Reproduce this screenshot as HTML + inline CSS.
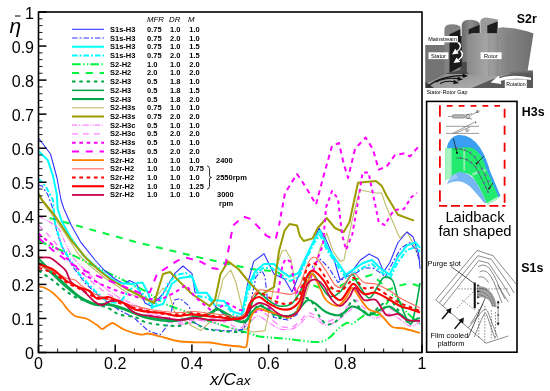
<!DOCTYPE html>
<html><head><meta charset="utf-8"><title>Film cooling effectiveness</title>
<style>html,body{margin:0;padding:0;background:#fff}body{width:550px;height:391px;overflow:hidden}svg{display:block}text{font-family:"Liberation Sans",sans-serif;fill:#000}.b{font-weight:bold}.i{font-style:italic}</style></head><body>
<svg width="550" height="391" viewBox="0 0 550 391">
<rect width="550" height="391" fill="#fff"/>
<defs><clipPath id="pc"><rect x="38.5" y="12" width="383.5" height="340.5"/></clipPath></defs>
<g id="curves" fill="none" stroke-linejoin="round" stroke-linecap="butt" clip-path="url(#pc)">
<path d="M38.5 216.0C41.5 217.8 52.9 223.2 57.0 227.0C61.1 230.8 61.8 235.6 64.0 240.0C66.2 244.4 68.7 250.7 71.0 254.5C73.3 258.3 75.6 260.3 78.6 263.6C81.6 266.9 85.8 271.1 90.0 275.0C94.2 278.9 100.2 284.3 105.0 288.0C109.8 291.7 115.2 295.3 120.0 298.0C124.8 300.7 130.2 302.8 135.0 305.0C139.8 307.2 145.2 309.9 150.0 312.0C154.8 314.1 160.2 316.4 165.0 318.0C169.8 319.6 175.2 321.7 180.0 322.0C184.8 322.3 190.2 320.0 195.0 320.0C199.8 320.0 205.2 321.0 210.0 322.0C214.8 323.0 220.2 324.7 225.0 326.0C229.8 327.3 236.0 330.6 240.0 330.0C244.0 329.4 247.1 324.2 250.0 322.0C252.9 319.8 255.1 316.0 258.0 316.0C260.9 316.0 264.5 319.9 268.0 322.0C271.5 324.1 276.2 327.9 280.0 329.0C283.8 330.1 288.8 329.8 292.0 329.0C295.2 328.2 297.4 326.1 300.0 324.0C302.6 321.9 305.4 316.8 308.0 316.0C310.6 315.2 313.1 317.6 316.0 319.0C318.9 320.4 322.5 324.8 326.0 325.0C329.5 325.2 334.5 322.1 338.0 320.0C341.5 317.9 345.1 314.2 348.0 312.0C350.9 309.8 353.4 306.0 356.0 306.0C358.6 306.0 361.0 310.1 364.0 312.0C367.0 313.9 371.2 317.7 375.0 318.0C378.8 318.3 384.3 314.0 388.0 314.0C391.7 314.0 394.5 316.1 398.0 318.0C401.5 319.9 406.5 325.4 410.0 326.0C413.5 326.6 418.4 322.6 420.0 322.0" stroke="#ff80ff" stroke-width="1.3" stroke-dasharray="5.5 1.5 1 1.3 1 1"/>
<path d="M38.5 225.0C40.8 227.4 48.9 235.3 53.0 240.0C57.1 244.7 60.5 250.3 64.0 254.5C67.5 258.7 70.8 261.9 75.0 266.0C79.2 270.1 85.2 275.8 90.0 280.0C94.8 284.2 100.2 288.8 105.0 292.0C109.8 295.2 115.2 297.4 120.0 300.0C124.8 302.6 130.2 305.8 135.0 308.0C139.8 310.2 145.2 312.1 150.0 314.0C154.8 315.9 160.2 318.4 165.0 320.0C169.8 321.6 175.2 323.7 180.0 324.0C184.8 324.3 190.2 323.0 195.0 322.0C199.8 321.0 205.2 318.0 210.0 318.0C214.8 318.0 220.2 320.4 225.0 322.0C229.8 323.6 236.0 328.6 240.0 328.0C244.0 327.4 247.1 320.9 250.0 318.0C252.9 315.1 255.1 310.3 258.0 310.0C260.9 309.7 264.5 313.4 268.0 316.0C271.5 318.6 276.2 324.2 280.0 326.0C283.8 327.8 288.8 327.8 292.0 327.0C295.2 326.2 297.4 323.2 300.0 321.0C302.6 318.8 305.4 313.8 308.0 313.0C310.6 312.2 313.1 314.6 316.0 316.0C318.9 317.4 322.5 322.0 326.0 322.0C329.5 322.0 334.5 318.6 338.0 316.0C341.5 313.4 345.1 308.6 348.0 306.0C350.9 303.4 353.4 299.7 356.0 300.0C358.6 300.3 361.0 305.8 364.0 308.0C367.0 310.2 371.2 314.0 375.0 314.0C378.8 314.0 384.3 308.0 388.0 308.0C391.7 308.0 394.5 311.8 398.0 314.0C401.5 316.2 406.5 321.4 410.0 322.0C413.5 322.6 418.4 318.6 420.0 318.0" stroke="#ff80ff" stroke-width="1.3" stroke-dasharray="6 4.9"/>
<polyline points="38.5,196.0 45.0,205.0 62.0,229.0 78.6,254.5 89.5,265.5 105.0,278.0 128.0,293.0 148.0,301.0 154.0,300.0 163.0,288.0 168.7,292.7 174.5,311.6 192.0,326.0 200.8,330.6 212.0,320.0 221.0,288.0 223.0,279.0 230.7,270.0 235.8,282.0 241.6,305.8 244.6,329.0 253.0,332.0 265.0,330.6 270.8,303.0 276.8,266.5 282.0,251.0 285.7,250.0 291.0,259.0 293.4,274.0 296.0,298.0 304.0,300.0 312.6,274.0 320.0,248.6 326.7,233.0 333.0,251.0 340.0,261.4 344.0,260.0 348.7,236.7 352.4,219.0 359.7,190.0 375.8,193.0 381.6,193.0 386.6,207.5 398.0,234.0 400.0,238.0 407.0,232.0 414.0,245.0 420.0,260.0" stroke="#c2be6e" stroke-width="1.15"/>
<path d="M38.5 241.0C43.7 243.2 62.8 250.9 71.0 254.5C79.2 258.1 80.4 259.1 89.5 263.6C98.6 268.1 118.6 277.8 128.0 282.5C137.4 287.2 142.4 289.4 148.0 292.7C153.6 296.0 156.9 300.0 163.0 303.0C169.1 306.0 177.7 308.4 186.0 311.6C194.3 314.8 204.8 319.5 215.0 323.0C225.2 326.5 243.0 331.4 250.0 333.5C257.0 335.6 252.9 335.5 259.0 336.4C265.1 337.3 278.6 338.1 288.0 339.0C297.4 339.9 310.9 342.2 317.5 342.0C324.1 341.8 325.7 340.1 329.0 338.0C332.3 335.9 335.2 331.4 338.0 329.0C340.8 326.6 344.4 323.8 346.6 323.0C348.8 322.2 349.5 324.8 351.7 324.0C353.9 323.2 357.6 319.8 360.4 318.0C363.2 316.2 366.2 313.0 369.0 312.5C371.8 312.0 375.2 316.4 378.0 315.0C380.8 313.6 384.0 306.9 386.6 303.7C389.2 300.5 390.7 293.6 394.0 295.0C397.3 296.4 402.8 307.9 407.0 312.5C411.2 317.1 417.9 322.2 420.0 324.0" stroke="#00f53c" stroke-width="2" stroke-dasharray="8.7 2.5 1.3 2.5 1.3 2"/>
<polyline points="49.5,218.0 135.0,241.8 200.0,257.6 251.0,269.0 276.8,271.7 284.5,276.8 297.0,274.0 310.0,284.0 325.0,290.0 340.0,286.0 352.0,280.0 363.0,277.5 372.0,274.6 378.0,280.0 388.0,290.0 398.0,286.0 410.0,283.0 418.7,286.0" stroke="#00f53c" stroke-width="2" stroke-dasharray="7 6.8"/>
<polyline points="38.5,185.0 42.0,186.0 47.7,194.5 53.0,209.0 57.0,232.7 64.0,251.0 73.0,267.0 85.0,283.0 100.0,297.0 119.0,310.0 133.7,317.5 148.0,330.6 160.0,335.0 167.0,326.0 174.5,300.0 180.0,298.5 189.0,306.0 195.0,323.0 206.6,329.0 224.0,330.6 235.0,331.0 244.0,329.0 250.0,305.8 256.0,276.6 262.0,270.8 265.0,276.6 268.0,305.8 273.7,317.5 288.0,320.0 297.0,314.5 305.8,288.0 313.0,265.0 320.0,259.0 329.0,268.0 338.0,282.5 346.6,276.6 355.0,273.7 364.0,268.0 372.8,268.0 381.6,273.7 385.0,277.0 392.5,263.0 401.0,248.0 410.0,242.5 416.0,250.0 420.0,262.0" stroke="#3333ff" stroke-width="1.1" stroke-dasharray="5.5 2 2 2"/>
<polyline points="38.5,138.0 50.5,154.0 57.0,178.0 61.0,200.0 64.0,209.0 71.4,225.5 80.5,241.8 95.0,260.0 104.0,270.0 115.0,279.0 124.0,284.0 129.5,280.5 136.6,284.0 145.0,303.0 151.0,306.0 163.0,294.0 174.5,273.7 183.0,266.0 192.0,273.7 195.0,292.7 206.6,292.7 215.0,306.0 224.0,314.5 235.8,317.5 241.6,317.5 247.5,284.5 253.7,261.4 264.0,253.7 269.0,264.0 274.0,274.0 284.5,279.0 292.0,292.0 302.4,266.5 312.6,243.5 319.0,228.0 325.4,238.4 333.0,256.0 340.0,280.0 351.7,271.6 360.4,260.0 369.0,254.0 378.0,258.5 383.7,271.6 389.6,263.0 398.0,242.5 407.0,232.0 413.0,236.7 418.7,254.0 420.0,268.7" stroke="#3333ff" stroke-width="1.1"/>
<polyline points="38.5,178.6 46.0,187.0 53.0,200.0 55.0,223.6 62.0,247.0 71.4,262.0 80.0,275.0 95.0,291.0 108.0,302.0 120.0,303.0 128.0,291.0 135.0,286.0 145.0,296.0 152.0,308.0 160.0,300.0 168.0,284.0 176.0,275.0 186.0,273.0 193.0,278.0 198.0,296.0 208.0,298.0 215.0,305.0 226.0,306.0 234.0,315.0 242.0,318.0 248.0,292.0 255.0,275.0 263.0,268.0 272.0,268.0 281.0,276.0 290.0,281.0 299.0,277.0 307.0,258.0 314.0,243.0 320.0,235.0 327.0,250.0 339.0,268.0 346.0,278.0 355.0,272.0 364.0,267.0 372.0,264.0 381.0,272.0 390.0,278.0 398.0,262.0 407.0,250.0 416.0,247.0 420.0,252.0" stroke="#00ffff" stroke-width="2" stroke-dasharray="5.5 2 2 2"/>
<polyline points="38.5,151.0 47.7,160.0 53.0,176.0 56.8,194.5 57.7,209.0 62.0,222.0 71.0,238.0 83.0,255.0 95.0,266.0 106.0,275.0 118.0,283.0 131.0,284.0 142.5,282.5 148.0,292.7 152.7,307.0 163.0,304.0 171.6,284.0 180.0,278.0 192.0,276.6 198.0,292.7 206.6,292.7 212.4,300.0 224.0,301.0 232.8,311.6 241.6,314.5 247.5,288.0 255.0,271.7 264.0,264.0 274.0,264.0 282.0,271.7 289.6,276.8 298.5,273.0 307.5,253.7 315.0,238.4 320.0,230.7 328.0,248.6 340.0,265.8 345.8,274.6 354.6,268.7 363.0,263.0 372.0,260.0 380.8,268.7 389.6,274.6 398.0,257.0 407.0,245.4 415.8,242.5 420.0,248.0" stroke="#00ffff" stroke-width="2"/>
<polyline points="38.5,193.6 42.0,200.0 55.0,216.0 71.0,240.0 86.0,258.0 98.6,270.0 110.0,279.0 125.0,288.0 154.0,303.0 163.0,274.0 170.0,272.0 177.5,279.6 192.0,294.0 209.5,306.0 215.0,300.0 220.5,274.0 228.0,261.4 238.4,269.0 251.0,284.5 261.4,294.7 274.0,287.0 279.0,251.0 284.5,230.7 289.6,224.0 297.0,225.6 299.8,235.8 303.7,241.0 312.6,238.4 317.7,228.0 326.7,218.0 335.0,228.0 343.7,232.0 349.5,222.0 358.0,182.7 375.8,181.0 381.6,185.6 386.6,195.8 398.0,214.8 414.0,220.6" stroke="#9c9c00" stroke-width="2"/>
<polyline points="38.5,233.6 62.0,252.7 71.4,263.6 85.0,275.0 100.0,284.0 120.0,292.0 140.0,298.0 160.0,300.0 174.5,292.7 186.0,285.0 195.0,297.0 212.4,311.6 227.0,303.0 240.0,310.0 255.0,312.0 270.0,308.0 276.6,303.0 282.5,265.0 285.7,259.0 291.0,262.0 295.6,294.0 300.0,288.0 308.7,282.5 317.5,259.0 323.0,244.6 326.0,207.5 332.0,191.0 338.0,198.7 342.0,234.0 346.0,250.0 352.4,234.0 358.0,201.6 362.6,172.5 368.5,172.5 372.8,193.0 378.7,222.0 384.5,225.0 394.0,210.0 404.0,209.0 411.4,197.0 417.0,193.0" stroke="#ff00ff" stroke-width="2" stroke-dasharray="3.7 3.6"/>
<polyline points="38.5,238.0 55.0,252.0 70.0,263.0 85.0,271.0 100.0,277.0 120.0,285.0 140.0,293.0 150.0,292.0 157.0,274.0 177.5,260.6 186.0,257.7 200.0,261.4 212.0,268.0 218.0,269.0 225.6,264.0 229.0,247.0 233.0,225.6 243.5,216.6 251.0,219.0 266.5,235.8 275.5,239.7 279.0,225.6" stroke="#ff00ff" stroke-width="2" stroke-dasharray="7 6.8"/>
<polyline points="279.0,225.6 285.0,193.0 297.0,174.0 305.8,187.0 316.0,204.5 323.0,178.0 332.0,146.0 339.0,143.0 343.7,163.7 348.0,178.0 355.0,149.0 365.6,137.5 372.8,149.0 378.7,169.6 386.6,166.6 395.0,155.0 404.0,153.5 410.0,156.4 418.0,147.0" stroke="#ff00ff" stroke-width="2" stroke-dasharray="5 4.2"/>
<path d="M38.5 270.5C40.8 272.1 48.6 277.2 53.0 280.5C57.4 283.8 62.2 288.2 66.0 291.0C69.8 293.8 73.2 296.2 77.0 298.0C80.8 299.8 84.5 300.4 89.5 302.0C94.5 303.6 103.3 306.0 108.0 308.0C112.7 310.0 114.7 313.1 119.0 314.5C123.3 315.9 130.4 315.6 135.0 317.0C139.6 318.4 141.2 321.6 148.0 323.0C154.8 324.4 170.5 326.2 177.5 326.0C184.5 325.8 187.3 321.5 192.0 322.0C196.7 322.5 199.6 327.4 206.6 329.0C213.6 330.6 229.3 331.8 235.8 332.0C242.3 332.2 244.2 333.2 247.0 330.0C249.8 326.8 250.9 316.0 253.0 312.0C255.1 308.0 257.3 305.0 260.0 305.0C262.7 305.0 266.8 309.9 270.0 312.0C273.2 314.1 276.5 317.4 280.0 318.0C283.5 318.6 288.8 318.1 292.0 316.0C295.2 313.9 297.8 307.9 300.0 305.0C302.2 302.1 304.1 298.5 306.0 298.0C307.9 297.5 310.1 299.4 312.0 302.0C313.9 304.6 315.8 310.5 318.0 314.0C320.2 317.5 323.3 322.7 326.0 324.0C328.7 325.3 332.0 323.9 335.0 322.0C338.0 320.1 342.1 315.5 345.0 312.0C347.9 308.5 350.6 300.6 353.0 300.0C355.4 299.4 357.3 305.8 360.0 308.0C362.7 310.2 366.8 314.3 370.0 314.0C373.2 313.7 376.8 308.2 380.0 306.0C383.2 303.8 387.1 299.4 390.0 300.0C392.9 300.6 395.1 306.5 398.0 310.0C400.9 313.5 404.5 320.7 408.0 322.0C411.5 323.3 418.1 318.6 420.0 318.0" stroke="#00a84a" stroke-width="2" stroke-dasharray="3.5 3.8"/>
<path d="M38.5 262.0C40.8 264.1 48.6 271.0 53.0 275.0C57.4 279.0 61.7 283.3 66.0 287.0C70.3 290.7 75.4 295.1 80.0 298.0C84.6 300.9 90.5 303.9 95.0 305.0C99.5 306.1 103.7 304.4 108.0 305.0C112.3 305.6 117.7 307.6 122.0 309.0C126.3 310.4 130.8 312.5 135.0 314.0C139.2 315.5 143.5 317.4 148.0 318.5C152.5 319.6 158.3 320.6 163.0 321.0C167.7 321.4 172.9 321.6 177.5 321.0C182.1 320.4 187.3 317.9 192.0 317.0C196.7 316.1 202.4 316.7 206.6 315.5C210.8 314.3 214.6 309.9 218.0 309.7C221.4 309.5 224.5 312.2 228.0 314.0C231.5 315.8 236.8 320.4 240.0 321.0C243.2 321.6 245.9 321.4 248.0 318.0C250.1 314.6 251.2 304.0 253.0 300.0C254.8 296.0 256.6 293.0 259.0 293.0C261.4 293.0 264.8 297.9 268.0 300.0C271.2 302.1 275.3 305.4 279.0 306.0C282.7 306.6 287.6 306.2 291.0 304.0C294.4 301.8 297.4 296.3 300.0 292.0C302.6 287.7 304.9 279.9 307.0 277.0C309.1 274.1 310.9 272.9 313.0 274.0C315.1 275.1 317.4 280.5 320.0 284.0C322.6 287.5 325.8 294.7 329.0 296.0C332.2 297.3 336.4 295.4 340.0 292.0C343.6 288.6 348.9 276.0 351.7 274.6C354.5 273.2 354.7 279.3 357.5 283.0C360.3 286.7 365.7 297.5 369.0 298.0C372.3 298.5 375.6 289.3 378.0 286.0C380.4 282.7 381.4 278.4 383.7 277.5C386.0 276.6 390.2 277.1 392.5 280.4C394.8 283.7 395.2 291.0 398.0 298.0C400.8 305.0 407.2 322.6 410.0 324.0C412.8 325.4 414.2 313.2 415.8 306.6C417.4 300.0 419.3 286.8 420.0 283.0" stroke="#00a84a" stroke-width="1.6"/>
<path d="M38.5 258.6C40.8 260.9 48.6 268.8 53.0 273.0C57.4 277.2 61.7 281.2 66.0 285.0C70.3 288.8 75.4 294.0 80.0 297.0C84.6 300.0 90.5 302.9 95.0 304.0C99.5 305.1 103.7 303.4 108.0 304.0C112.3 304.6 117.7 306.3 122.0 307.7C126.3 309.1 130.8 311.4 135.0 313.0C139.2 314.6 141.2 316.4 148.0 317.5C154.8 318.6 168.1 320.5 177.5 320.0C186.9 319.5 200.1 316.3 206.6 314.5C213.1 312.7 214.3 308.1 218.0 308.7C221.7 309.3 225.7 315.9 230.0 318.0C234.3 320.1 241.5 323.0 245.0 322.0C248.5 321.0 249.6 314.6 252.0 312.0C254.4 309.4 257.1 306.2 260.0 306.0C262.9 305.8 266.8 309.4 270.0 311.0C273.2 312.6 276.5 315.4 280.0 316.0C283.5 316.6 288.8 316.3 292.0 315.0C295.2 313.7 297.4 310.4 300.0 308.0C302.6 305.6 305.4 300.6 308.0 300.0C310.6 299.4 313.1 302.1 316.0 304.0C318.9 305.9 322.2 310.2 326.0 312.0C329.8 313.8 335.9 315.9 340.0 315.0C344.1 314.1 348.4 307.5 351.7 306.6C355.0 305.7 357.6 308.2 360.4 309.5C363.2 310.8 365.7 315.0 369.0 315.0C372.3 315.0 377.5 310.8 380.8 309.5C384.1 308.2 386.8 306.1 389.6 306.6C392.4 307.1 394.7 310.2 398.0 312.5C401.3 314.8 406.7 320.1 410.0 321.0C413.3 321.9 417.3 318.5 418.7 318.0" stroke="#00a84a" stroke-width="2.1"/>
<path d="M38.5 286.5C39.5 286.7 42.7 287.0 45.0 288.0C47.3 289.0 50.3 290.8 53.0 293.0C55.7 295.2 59.6 299.4 62.0 302.0C64.4 304.6 65.6 307.3 67.7 309.5C69.8 311.7 72.1 314.6 75.0 316.0C77.9 317.4 82.5 317.1 86.0 318.5C89.5 319.9 94.4 323.3 97.0 325.0C99.6 326.7 100.4 328.8 102.0 329.0C103.6 329.2 105.3 327.0 107.0 326.0C108.7 325.0 110.8 323.0 112.6 323.0C114.4 323.0 116.0 324.9 118.0 326.0C120.0 327.1 121.5 328.6 125.0 330.0C128.5 331.4 136.3 333.9 140.0 334.5C143.7 335.1 144.8 333.2 148.0 333.5C151.2 333.8 155.3 335.2 160.0 336.4C164.7 337.6 171.9 340.1 177.5 341.0C183.1 341.9 189.8 342.1 195.0 342.3C200.2 342.5 205.2 342.1 210.0 342.5C214.8 342.9 220.2 344.4 225.0 345.0C229.8 345.6 236.6 346.3 240.0 346.5C243.4 346.7 245.1 349.4 246.5 346.0C247.9 342.6 248.1 330.0 249.0 325.0C249.9 320.0 250.4 317.1 252.0 314.5C253.6 311.9 256.4 309.2 259.0 308.7C261.6 308.2 264.7 310.7 268.0 311.6C271.3 312.5 276.4 313.6 279.6 314.5C282.8 315.4 285.2 318.0 288.0 317.5C290.8 317.0 294.2 316.3 297.0 311.6C299.8 306.9 303.5 294.1 305.8 288.0C308.1 281.9 309.7 274.6 311.6 273.7C313.5 272.8 315.2 278.3 317.5 282.5C319.8 286.7 322.7 296.3 326.0 300.0C329.3 303.7 334.7 306.3 338.0 305.8C341.3 305.3 344.3 299.8 346.6 297.0C348.9 294.2 350.1 287.5 352.4 288.0C354.7 288.5 358.3 296.6 361.0 300.0C363.7 303.4 366.3 307.5 369.0 309.5C371.7 311.5 375.6 311.1 378.0 312.5C380.4 313.9 381.4 315.7 383.7 318.0C386.0 320.3 389.3 325.3 392.5 327.0C395.7 328.7 399.6 327.5 404.0 328.5C408.4 329.5 417.4 332.3 420.0 333.0" stroke="#ff8000" stroke-width="1.8"/>
<path d="M38.5 266.0C40.8 266.8 48.6 269.1 53.0 271.0C57.4 272.9 62.5 276.6 66.0 278.0C69.5 279.4 72.4 278.7 75.0 280.0C77.6 281.3 78.8 283.8 82.0 286.0C85.2 288.2 90.8 291.9 95.0 294.0C99.2 296.1 103.7 297.6 108.0 299.0C112.3 300.4 117.7 301.9 122.0 303.0C126.3 304.1 130.5 305.0 135.0 306.0C139.5 307.0 145.2 308.6 150.0 309.5C154.8 310.4 160.2 311.0 165.0 311.5C169.8 312.0 175.2 312.5 180.0 312.5C184.8 312.5 190.2 311.3 195.0 311.5C199.8 311.7 205.2 312.9 210.0 313.5C214.8 314.1 220.2 314.4 225.0 315.0C229.8 315.6 236.3 318.0 240.0 317.0C243.7 316.0 245.9 312.4 248.0 309.0C250.1 305.6 251.2 299.0 253.0 296.0C254.8 293.0 256.6 290.8 259.0 290.0C261.4 289.2 264.7 290.6 268.0 291.0C271.3 291.4 275.6 292.2 279.6 292.7C283.6 293.2 289.4 295.2 292.7 294.0C296.0 292.8 297.4 290.1 300.0 285.0C302.6 279.9 306.1 266.4 308.7 262.0C311.3 257.6 313.2 256.3 316.0 257.7C318.8 259.1 323.0 266.4 326.0 270.8C329.0 275.2 332.4 282.4 335.0 285.0C337.6 287.6 339.7 288.3 342.0 287.0C344.3 285.7 347.4 278.7 349.5 276.6C351.6 274.5 352.7 272.8 355.0 273.7C357.3 274.6 360.7 280.9 364.0 282.5C367.3 284.1 371.6 282.6 375.8 284.0C380.0 285.4 386.1 288.8 390.0 291.0C393.9 293.2 396.8 296.1 400.0 298.0C403.2 299.9 406.8 301.4 410.0 303.0C413.2 304.6 418.4 307.2 420.0 308.0" stroke="#ff6a5e" stroke-width="1.15"/>
<path d="M38.5 268.0C40.8 268.8 48.6 270.8 53.0 273.0C57.4 275.2 61.7 279.4 66.0 282.0C70.3 284.6 75.4 286.6 80.0 289.0C84.6 291.4 90.5 295.4 95.0 297.0C99.5 298.6 103.7 297.9 108.0 299.0C112.3 300.1 117.7 302.6 122.0 304.0C126.3 305.4 130.5 306.8 135.0 308.0C139.5 309.2 145.2 310.5 150.0 311.5C154.8 312.5 160.2 313.5 165.0 314.0C169.8 314.5 175.2 314.6 180.0 314.5C184.8 314.4 190.2 313.3 195.0 313.5C199.8 313.7 205.2 314.9 210.0 315.5C214.8 316.1 220.2 316.4 225.0 317.0C229.8 317.6 236.3 319.8 240.0 319.0C243.7 318.2 245.9 315.0 248.0 312.0C250.1 309.0 251.2 303.1 253.0 300.0C254.8 296.9 256.6 293.2 259.0 292.7C261.4 292.2 264.7 295.4 268.0 297.0C271.3 298.6 275.9 302.0 279.6 303.0C283.3 304.0 287.7 304.4 291.0 303.0C294.3 301.6 297.4 299.6 300.0 294.0C302.6 288.4 304.7 272.9 307.0 268.0C309.3 263.1 311.9 262.6 314.5 263.5C317.1 264.4 320.2 269.8 323.0 273.7C325.8 277.6 329.2 285.2 332.0 288.0C334.8 290.8 338.0 291.9 340.8 291.0C343.6 290.1 347.4 284.6 349.5 282.5C351.6 280.4 351.7 277.1 354.0 278.0C356.3 278.9 360.5 286.4 364.0 288.0C367.5 289.6 371.6 286.6 375.8 288.0C380.0 289.4 386.1 294.6 390.0 297.0C393.9 299.4 396.8 301.4 400.0 303.0C403.2 304.6 406.8 305.7 410.0 307.0C413.2 308.3 418.4 310.4 420.0 311.0" stroke="#ff0000" stroke-width="2" stroke-dasharray="3.7 3.6"/>
<path d="M38.5 257.7C40.3 257.7 46.3 256.7 49.5 257.7C52.7 258.7 56.0 261.9 58.6 264.0C61.2 266.1 64.0 268.1 66.0 271.0C68.0 273.9 68.4 279.0 71.0 282.0C73.6 285.0 78.2 286.3 82.0 289.5C85.8 292.7 91.8 299.5 95.0 302.0C98.2 304.5 99.4 305.2 102.0 305.0C104.6 304.8 107.8 301.5 111.0 301.0C114.2 300.5 118.2 300.1 122.0 302.0C125.8 303.9 130.5 310.8 135.0 313.0C139.5 315.2 145.2 315.2 150.0 316.0C154.8 316.8 160.2 317.4 165.0 318.0C169.8 318.6 175.2 320.0 180.0 320.0C184.8 320.0 190.2 318.0 195.0 318.0C199.8 318.0 204.4 319.7 210.0 320.0C215.6 320.3 224.5 320.4 230.0 320.0C235.5 319.6 241.3 319.3 244.6 317.5C247.9 315.7 248.1 311.0 250.4 308.7C252.7 306.4 256.2 303.5 259.0 303.0C261.8 302.5 264.7 304.0 268.0 305.8C271.3 307.6 275.9 312.9 279.6 314.5C283.3 316.1 287.7 316.9 291.0 316.0C294.3 315.1 297.4 313.7 300.0 308.7C302.6 303.7 304.7 289.7 307.0 285.0C309.3 280.3 311.9 279.6 314.5 279.6C317.1 279.6 320.2 281.7 323.0 285.0C325.8 288.3 329.2 296.7 332.0 300.0C334.8 303.3 338.0 306.3 340.8 305.8C343.6 305.3 347.2 299.8 349.5 297.0C351.8 294.2 352.7 287.5 355.0 288.0C357.3 288.5 360.7 298.1 364.0 300.0C367.3 301.9 372.2 297.6 375.8 300.0C379.4 302.4 383.0 312.8 386.6 315.0C390.2 317.2 394.7 313.2 398.0 314.0C401.3 314.8 403.5 318.9 407.0 320.0C410.5 321.1 417.9 320.8 420.0 321.0" stroke="#c8004c" stroke-width="1.8"/>
<path d="M38.5 264.0C40.8 264.9 48.6 266.9 53.0 269.5C57.4 272.1 61.7 277.6 66.0 280.5C70.3 283.4 76.2 286.0 80.0 287.7C83.8 289.4 86.8 289.3 89.5 291.0C92.2 292.7 94.0 297.6 97.0 298.6C100.0 299.6 105.1 296.9 108.0 297.0C110.9 297.1 112.1 298.4 115.0 299.5C117.9 300.6 122.8 302.4 126.0 304.0C129.2 305.6 131.2 308.2 135.0 309.5C138.8 310.8 145.5 311.4 150.0 312.0C154.5 312.6 158.7 312.4 163.0 313.0C167.3 313.6 172.4 315.8 177.0 316.0C181.6 316.2 187.4 314.5 192.0 314.5C196.6 314.5 201.4 315.5 206.0 316.0C210.6 316.5 216.4 317.0 221.0 317.5C225.6 318.0 231.2 319.2 235.0 319.0C238.8 318.8 242.6 318.6 245.0 316.0C247.4 313.4 247.8 306.0 250.0 303.0C252.2 300.0 256.1 297.0 259.0 297.0C261.9 297.0 264.7 301.1 268.0 303.0C271.3 304.9 275.9 307.8 279.6 308.7C283.3 309.6 287.7 310.1 291.0 308.7C294.3 307.3 297.4 305.1 300.0 300.0C302.6 294.9 304.9 281.3 307.0 276.6C309.1 271.9 310.4 270.3 313.0 270.8C315.6 271.3 320.0 275.9 323.0 279.6C326.0 283.3 329.2 290.7 332.0 294.0C334.8 297.3 338.0 301.0 340.8 300.0C343.6 299.0 347.4 290.6 349.5 288.0C351.6 285.4 351.7 283.0 354.0 284.0C356.3 285.0 360.5 292.6 364.0 294.0C367.5 295.4 371.6 291.7 375.8 292.7C380.0 293.7 386.1 297.9 390.0 300.0C393.9 302.1 396.8 304.6 400.0 306.0C403.2 307.4 406.8 308.0 410.0 309.0C413.2 310.0 418.4 311.9 420.0 312.5" stroke="#ff0000" stroke-width="2.1"/>
</g>
<g id="axes" stroke="#000" fill="none">
<rect x="38.5" y="12" width="383.5" height="340.5" stroke-width="1.6"/>
<line x1="38.5" y1="352.50" x2="46.5" y2="352.50" stroke-width="1.5"/><line x1="38.5" y1="345.69" x2="42.5" y2="345.69" stroke-width="0.9"/><line x1="38.5" y1="338.88" x2="42.5" y2="338.88" stroke-width="0.9"/><line x1="38.5" y1="332.07" x2="42.5" y2="332.07" stroke-width="0.9"/><line x1="38.5" y1="325.26" x2="42.5" y2="325.26" stroke-width="0.9"/><line x1="38.5" y1="318.45" x2="46.5" y2="318.45" stroke-width="1.5"/><line x1="38.5" y1="311.64" x2="42.5" y2="311.64" stroke-width="0.9"/><line x1="38.5" y1="304.83" x2="42.5" y2="304.83" stroke-width="0.9"/><line x1="38.5" y1="298.02" x2="42.5" y2="298.02" stroke-width="0.9"/><line x1="38.5" y1="291.21" x2="42.5" y2="291.21" stroke-width="0.9"/><line x1="38.5" y1="284.40" x2="46.5" y2="284.40" stroke-width="1.5"/><line x1="38.5" y1="277.59" x2="42.5" y2="277.59" stroke-width="0.9"/><line x1="38.5" y1="270.78" x2="42.5" y2="270.78" stroke-width="0.9"/><line x1="38.5" y1="263.97" x2="42.5" y2="263.97" stroke-width="0.9"/><line x1="38.5" y1="257.16" x2="42.5" y2="257.16" stroke-width="0.9"/><line x1="38.5" y1="250.35" x2="46.5" y2="250.35" stroke-width="1.5"/><line x1="38.5" y1="243.54" x2="42.5" y2="243.54" stroke-width="0.9"/><line x1="38.5" y1="236.73" x2="42.5" y2="236.73" stroke-width="0.9"/><line x1="38.5" y1="229.92" x2="42.5" y2="229.92" stroke-width="0.9"/><line x1="38.5" y1="223.11" x2="42.5" y2="223.11" stroke-width="0.9"/><line x1="38.5" y1="216.30" x2="46.5" y2="216.30" stroke-width="1.5"/><line x1="38.5" y1="209.49" x2="42.5" y2="209.49" stroke-width="0.9"/><line x1="38.5" y1="202.68" x2="42.5" y2="202.68" stroke-width="0.9"/><line x1="38.5" y1="195.87" x2="42.5" y2="195.87" stroke-width="0.9"/><line x1="38.5" y1="189.06" x2="42.5" y2="189.06" stroke-width="0.9"/><line x1="38.5" y1="182.25" x2="46.5" y2="182.25" stroke-width="1.5"/><line x1="38.5" y1="175.44" x2="42.5" y2="175.44" stroke-width="0.9"/><line x1="38.5" y1="168.63" x2="42.5" y2="168.63" stroke-width="0.9"/><line x1="38.5" y1="161.82" x2="42.5" y2="161.82" stroke-width="0.9"/><line x1="38.5" y1="155.01" x2="42.5" y2="155.01" stroke-width="0.9"/><line x1="38.5" y1="148.20" x2="46.5" y2="148.20" stroke-width="1.5"/><line x1="38.5" y1="141.39" x2="42.5" y2="141.39" stroke-width="0.9"/><line x1="38.5" y1="134.58" x2="42.5" y2="134.58" stroke-width="0.9"/><line x1="38.5" y1="127.77" x2="42.5" y2="127.77" stroke-width="0.9"/><line x1="38.5" y1="120.96" x2="42.5" y2="120.96" stroke-width="0.9"/><line x1="38.5" y1="114.15" x2="46.5" y2="114.15" stroke-width="1.5"/><line x1="38.5" y1="107.34" x2="42.5" y2="107.34" stroke-width="0.9"/><line x1="38.5" y1="100.53" x2="42.5" y2="100.53" stroke-width="0.9"/><line x1="38.5" y1="93.72" x2="42.5" y2="93.72" stroke-width="0.9"/><line x1="38.5" y1="86.91" x2="42.5" y2="86.91" stroke-width="0.9"/><line x1="38.5" y1="80.10" x2="46.5" y2="80.10" stroke-width="1.5"/><line x1="38.5" y1="73.29" x2="42.5" y2="73.29" stroke-width="0.9"/><line x1="38.5" y1="66.48" x2="42.5" y2="66.48" stroke-width="0.9"/><line x1="38.5" y1="59.67" x2="42.5" y2="59.67" stroke-width="0.9"/><line x1="38.5" y1="52.86" x2="42.5" y2="52.86" stroke-width="0.9"/><line x1="38.5" y1="46.05" x2="46.5" y2="46.05" stroke-width="1.5"/><line x1="38.5" y1="39.24" x2="42.5" y2="39.24" stroke-width="0.9"/><line x1="38.5" y1="32.43" x2="42.5" y2="32.43" stroke-width="0.9"/><line x1="38.5" y1="25.62" x2="42.5" y2="25.62" stroke-width="0.9"/><line x1="38.5" y1="18.81" x2="42.5" y2="18.81" stroke-width="0.9"/><line x1="38.5" y1="12.00" x2="46.5" y2="12.00" stroke-width="1.5"/><line x1="38.50" y1="352.5" x2="38.50" y2="344.5" stroke-width="1.5"/><line x1="57.67" y1="352.5" x2="57.67" y2="348.5" stroke-width="0.9"/><line x1="76.85" y1="352.5" x2="76.85" y2="348.5" stroke-width="0.9"/><line x1="96.03" y1="352.5" x2="96.03" y2="348.5" stroke-width="0.9"/><line x1="115.20" y1="352.5" x2="115.20" y2="344.5" stroke-width="1.5"/><line x1="134.38" y1="352.5" x2="134.38" y2="348.5" stroke-width="0.9"/><line x1="153.55" y1="352.5" x2="153.55" y2="348.5" stroke-width="0.9"/><line x1="172.73" y1="352.5" x2="172.73" y2="348.5" stroke-width="0.9"/><line x1="191.90" y1="352.5" x2="191.90" y2="344.5" stroke-width="1.5"/><line x1="211.08" y1="352.5" x2="211.08" y2="348.5" stroke-width="0.9"/><line x1="230.25" y1="352.5" x2="230.25" y2="348.5" stroke-width="0.9"/><line x1="249.43" y1="352.5" x2="249.43" y2="348.5" stroke-width="0.9"/><line x1="268.60" y1="352.5" x2="268.60" y2="344.5" stroke-width="1.5"/><line x1="287.77" y1="352.5" x2="287.77" y2="348.5" stroke-width="0.9"/><line x1="306.95" y1="352.5" x2="306.95" y2="348.5" stroke-width="0.9"/><line x1="326.12" y1="352.5" x2="326.12" y2="348.5" stroke-width="0.9"/><line x1="345.30" y1="352.5" x2="345.30" y2="344.5" stroke-width="1.5"/><line x1="364.48" y1="352.5" x2="364.48" y2="348.5" stroke-width="0.9"/><line x1="383.65" y1="352.5" x2="383.65" y2="348.5" stroke-width="0.9"/><line x1="402.83" y1="352.5" x2="402.83" y2="348.5" stroke-width="0.9"/><line x1="422.00" y1="352.5" x2="422.00" y2="344.5" stroke-width="1.5"/>
</g>
<g id="ticklabels" font-size="16">
<text x="34" y="359.3" text-anchor="end">0</text>
<text x="34" y="325.2" text-anchor="end">0.1</text>
<text x="34" y="291.2" text-anchor="end">0.2</text>
<text x="34" y="257.2" text-anchor="end">0.3</text>
<text x="34" y="223.1" text-anchor="end">0.4</text>
<text x="34" y="189.1" text-anchor="end">0.5</text>
<text x="34" y="155.0" text-anchor="end">0.6</text>
<text x="34" y="121.0" text-anchor="end">0.7</text>
<text x="34" y="86.9" text-anchor="end">0.8</text>
<text x="34" y="52.9" text-anchor="end">0.9</text>
<text x="34" y="18.8" text-anchor="end">1</text>
<text x="38.5" y="368.5" text-anchor="middle">0</text>
<text x="115.2" y="368.5" text-anchor="middle">0.2</text>
<text x="191.9" y="368.5" text-anchor="middle">0.4</text>
<text x="268.6" y="368.5" text-anchor="middle">0.6</text>
<text x="345.3" y="368.5" text-anchor="middle">0.8</text>
<text x="422.0" y="368.5" text-anchor="middle">1</text>
</g>
<text x="9.5" y="33.2" font-size="21" class="i">η</text>
<line x1="15" y1="16" x2="20.5" y2="16" stroke="#000" stroke-width="1"/>
<text x="210" y="384.5" font-size="17.4" class="i">x/C<tspan font-size="13.6" dy="0.5">ax</tspan></text>
<g id="legend">
<g font-size="7.8" class="i"><text x="147" y="22.2">MFR</text><text x="169" y="22.2">DR</text><text x="188" y="22.2">M</text></g>
<g fill="none">
<line x1="72" y1="29.30" x2="104" y2="29.30" stroke="#3333ff" stroke-width="1.1"/>
<line x1="72" y1="38.02" x2="104" y2="38.02" stroke="#3333ff" stroke-width="1.1" stroke-dasharray="5.5 2 2 2"/>
<line x1="72" y1="46.74" x2="104" y2="46.74" stroke="#00ffff" stroke-width="2"/>
<line x1="72" y1="55.46" x2="104" y2="55.46" stroke="#00ffff" stroke-width="2" stroke-dasharray="5.5 2 2 2"/>
<line x1="72" y1="64.18" x2="104" y2="64.18" stroke="#00f53c" stroke-width="2" stroke-dasharray="8.7 2.5 1.3 2.5 1.3 2"/>
<line x1="72" y1="72.90" x2="104" y2="72.90" stroke="#00f53c" stroke-width="2" stroke-dasharray="7 6.8"/>
<line x1="72" y1="81.62" x2="104" y2="81.62" stroke="#00a84a" stroke-width="2" stroke-dasharray="3.5 3.8"/>
<line x1="72" y1="90.34" x2="104" y2="90.34" stroke="#00a84a" stroke-width="1.6"/>
<line x1="72" y1="99.06" x2="104" y2="99.06" stroke="#00a84a" stroke-width="2.1"/>
<line x1="72" y1="107.78" x2="104" y2="107.78" stroke="#c2be6e" stroke-width="1.15"/>
<line x1="72" y1="116.50" x2="104" y2="116.50" stroke="#9c9c00" stroke-width="2"/>
<line x1="72" y1="125.22" x2="104" y2="125.22" stroke="#ff80ff" stroke-width="1.3" stroke-dasharray="5.5 1.5 1 1.3 1 1"/>
<line x1="72" y1="133.94" x2="104" y2="133.94" stroke="#ff80ff" stroke-width="1.3" stroke-dasharray="6 4.9"/>
<line x1="72" y1="142.66" x2="104" y2="142.66" stroke="#ff00ff" stroke-width="2" stroke-dasharray="3.7 3.6"/>
<line x1="72" y1="151.38" x2="104" y2="151.38" stroke="#ff00ff" stroke-width="2" stroke-dasharray="7 6.8"/>
<line x1="72" y1="160.10" x2="104" y2="160.10" stroke="#ff8000" stroke-width="1.8"/>
<line x1="72" y1="168.82" x2="104" y2="168.82" stroke="#ff8080" stroke-width="1.4"/>
<line x1="72" y1="177.54" x2="104" y2="177.54" stroke="#ff0000" stroke-width="2" stroke-dasharray="3.7 3.6"/>
<line x1="72" y1="186.26" x2="104" y2="186.26" stroke="#ff0000" stroke-width="2.1"/>
<line x1="72" y1="194.98" x2="104" y2="194.98" stroke="#c8004c" stroke-width="1.8"/>
</g>
<g font-size="7.5" class="b">
<text x="110" y="31.80">S1s-H3</text><text x="147" y="31.80">0.75</text><text x="170" y="31.80">1.0</text><text x="189.3" y="31.80">1.0</text>
<text x="110" y="40.52">S1s-H3</text><text x="147" y="40.52">0.75</text><text x="170" y="40.52">2.0</text><text x="189.3" y="40.52">1.0</text>
<text x="110" y="49.24">S1s-H3</text><text x="147" y="49.24">0.75</text><text x="170" y="49.24">1.0</text><text x="189.3" y="49.24">1.5</text>
<text x="110" y="57.96">S1s-H3</text><text x="147" y="57.96">0.75</text><text x="170" y="57.96">2.0</text><text x="189.3" y="57.96">1.5</text>
<text x="110" y="66.68">S2-H2</text><text x="147" y="66.68">1.0</text><text x="170" y="66.68">1.0</text><text x="189.3" y="66.68">2.0</text>
<text x="110" y="75.40">S2-H2</text><text x="147" y="75.40">2.0</text><text x="170" y="75.40">1.0</text><text x="189.3" y="75.40">2.0</text>
<text x="110" y="84.12">S2-H3</text><text x="147" y="84.12">0.5</text><text x="170" y="84.12">1.8</text><text x="189.3" y="84.12">1.0</text>
<text x="110" y="92.84">S2-H3</text><text x="147" y="92.84">0.5</text><text x="170" y="92.84">1.8</text><text x="189.3" y="92.84">1.5</text>
<text x="110" y="101.56">S2-H3</text><text x="147" y="101.56">0.5</text><text x="170" y="101.56">1.8</text><text x="189.3" y="101.56">2.0</text>
<text x="110" y="110.28">S2-H3s</text><text x="147" y="110.28">0.75</text><text x="170" y="110.28">1.0</text><text x="189.3" y="110.28">1.0</text>
<text x="110" y="119.00">S2-H3s</text><text x="147" y="119.00">0.75</text><text x="170" y="119.00">2.0</text><text x="189.3" y="119.00">2.0</text>
<text x="110" y="127.72">S2-H3c</text><text x="147" y="127.72">0.5</text><text x="170" y="127.72">1.0</text><text x="189.3" y="127.72">1.0</text>
<text x="110" y="136.44">S2-H3c</text><text x="147" y="136.44">0.5</text><text x="170" y="136.44">2.0</text><text x="189.3" y="136.44">2.0</text>
<text x="110" y="145.16">S2-H3s</text><text x="147" y="145.16">0.5</text><text x="170" y="145.16">1.0</text><text x="189.3" y="145.16">1.0</text>
<text x="110" y="153.88">S2-H3s</text><text x="147" y="153.88">0.5</text><text x="170" y="153.88">2.0</text><text x="189.3" y="153.88">2.0</text>
<text x="110" y="162.60">S2r-H2</text><text x="147" y="162.60">1.0</text><text x="170" y="162.60">1.0</text><text x="189.3" y="162.60">1.0</text>
<text x="110" y="171.32">S2r-H2</text><text x="147" y="171.32">1.0</text><text x="170" y="171.32">1.0</text><text x="189.3" y="171.32">0.75</text>
<text x="110" y="180.04">S2r-H2</text><text x="147" y="180.04">1.0</text><text x="170" y="180.04">1.0</text><text x="189.3" y="180.04">1.0</text>
<text x="110" y="188.76">S2r-H2</text><text x="147" y="188.76">1.0</text><text x="170" y="188.76">1.0</text><text x="189.3" y="188.76">1.25</text>
<text x="110" y="197.48">S2r-H2</text><text x="147" y="197.48">1.0</text><text x="170" y="197.48">1.0</text><text x="189.3" y="197.48">1.0</text>
<text x="216" y="162.60">2400</text><text x="216" y="180.04">2550rpm</text><text x="217" y="197.48">3000</text><text x="219" y="206.20">rpm</text>
</g>
<path d="M207 165.8 q2.5 0.5 2.5 3 V175.5 q0 2 2 2 q-2 0 -2 2 V186.3 q0 2.5 -2.5 3" fill="none" stroke="#000" stroke-width="0.8"/>
</g>
<g id="s2r">
<defs>
<linearGradient id="gA" x1="0" x2="1" y1="0" y2="0"><stop offset="0" stop-color="#8a8a8a"/><stop offset="0.45" stop-color="#a4a4a4"/><stop offset="1" stop-color="#7e7e7e"/></linearGradient>
<linearGradient id="gB" x1="0" x2="1" y1="0" y2="0"><stop offset="0" stop-color="#909090"/><stop offset="0.3" stop-color="#858585"/><stop offset="1" stop-color="#6e6e6e"/></linearGradient>
<linearGradient id="gC" x1="0" x2="1" y1="0" y2="0"><stop offset="0" stop-color="#6a6a6a"/><stop offset="0.5" stop-color="#8c8c8c"/><stop offset="1" stop-color="#707070"/></linearGradient>
<linearGradient id="gF" x1="0" x2="1" y1="0" y2="1"><stop offset="0" stop-color="#8a8a8a"/><stop offset="1" stop-color="#b4b4b4"/></linearGradient>
</defs>
<!-- base -->
<path d="M425.5 45 H446 V60 L500 70 L533 70.5 V88 H425.5 Z" fill="#6c6c6c"/>
<path d="M425.5 45 H446 V74 L425.5 84 Z" fill="#747474"/>
<!-- floor -->
<path d="M425.5 84 L452 71 L470 72 L512 73 L492 79.5 L472 88 H425.5 Z" fill="url(#gF)"/>
<path d="M472 88 L492 79.5 L512 74 L533 72.5 V88 Z" fill="#5a5a5a"/>
<path d="M425.5 82 L434 88 H425.5 Z" fill="#3a3a3a"/>
<path d="M446 45 H480 V74 H446 Z" fill="#4a4a4a"/>
<!-- stator blade 3 (back right) -->
<path d="M480.3 21 Q481.5 17.6 486 17.4 L498 19.5 V34 H480.3 Z" fill="#9a9a9a"/>
<path d="M487.3 25.5 L497.5 21.5 V33.5 H487.3 Z" fill="#1c1c1c"/>
<!-- stator blade 2 -->
<path d="M461.7 25 Q462.5 20.6 467 20 Q475 19 479.6 23 V62 H461.7 Z" fill="url(#gC)"/>
<path d="M468.7 29.2 L479.6 24.7 V64 H468.7 Z" fill="#1e1e1e"/>
<!-- stator blade 1 -->
<path d="M444.4 29 Q445 25.4 449 24.6 Q456 23.4 460.4 26.5 V70 L444.4 74 Z" fill="#828282"/>
<path d="M449.5 34.3 L460.4 29.2 V36 L461.7 36 V66 L449.5 73 Z" fill="#1a1a1a"/>
<!-- rotor right blade -->
<path d="M497 29.5 Q499 27 505 27.4 Q522 28.5 533.5 33.5 L527.5 71.5 L497 72 Z" fill="url(#gB)"/>
<path d="M508 36 V71" stroke="#6a6a6a" stroke-width="0.8" fill="none"/>
<!-- rotor front blade -->
<path d="M466.8 37 Q468.5 33.2 474 33 L506 33.4 Q510 33.6 510 37 V74 Q490 78.5 470 75 L466.8 72 Z" fill="url(#gA)"/>
<path d="M489 34 V76" stroke="#8d8d8d" stroke-width="0.8" fill="none"/>
<path d="M497.5 34 V76" stroke="#868686" stroke-width="0.8" fill="none"/>
<!-- white arrows mainstream -->
<g fill="none" stroke="#fff" stroke-width="1.5"><path d="M458 42.5 Q463.5 46 457 51.5"/><path d="M460.5 50.5 Q465 55.5 458.5 60"/></g>
<path d="M452 54.5 L458.8 53.6 L455.2 48.8 Z M453.5 63 L460.4 62 L456.6 57.4 Z" fill="#fff"/>
<!-- rotation arrow -->
<path d="M531 77.8 Q512 73.5 499.5 78.2 L498.8 75.8 L490.5 82.5 L501.5 84 L500.6 81 Q512 77 531 80 Z" fill="#fff"/>
<!-- purge arrows -->
<g fill="none" stroke="#111" stroke-width="1.1"><path d="M428.5 86 Q440 76 463 75.6"/><path d="M436 82 Q446 77 458 78.6"/><path d="M440 83.5 Q447 80 454 81.8"/></g>
<g fill="#111"><path d="M468 76 L462.5 73.3 L462.8 78 Z"/><path d="M463 79.6 L457.8 76.4 L457.6 81 Z"/><path d="M459 83 L453.8 79.8 L453.4 84.2 Z"/></g>
<!-- label boxes -->
<rect x="427.3" y="36" width="30.6" height="6.4" fill="#fff"/><rect x="428.5" y="52.3" width="19.8" height="6.8" fill="#fff"/><rect x="480.6" y="52.3" width="21" height="6.8" fill="#fff"/><rect x="504.8" y="79.4" width="22" height="8.6" fill="#fff"/>
<g font-size="5.6" fill="#222"><text x="428.3" y="41.3" textLength="28.6" lengthAdjust="spacingAndGlyphs">Mainstream</text><text x="431" y="57.8">Stator</text><text x="484" y="57.8">Rotor</text><text x="506.2" y="85.6" textLength="19.4" lengthAdjust="spacingAndGlyphs">Rotation</text><text x="426.5" y="94.3" font-size="5.4" textLength="41" lengthAdjust="spacingAndGlyphs">Stator-Rotor Gap</text></g>
<text x="516.8" y="22.5" font-size="12.4" class="b">S2r</text>
</g>
<g id="h3s">
<rect x="426.6" y="101.4" width="90.4" height="250.8" fill="none" stroke="#000" stroke-width="1.6"/>
<!-- blades -->
<path d="M446.5 148.5 Q448.5 137 458 135 Q471 134 480 147.5 Q486.5 158 490 171 L500.5 196 L498 197.5 L470 150 Z" fill="#3a9ff0"/>
<path d="M445.4 148.3 L467 147.3 Q476 147.5 481 156 Q484 161 486 168.6 L498.4 196.4 L486.5 203.2 Q480 187 472 176 Q462 168 445.4 180.5 Z" fill="#22ea6e"/>
<path d="M445.4 148.3 h6.2 v28.5 l-6.2 3.7 Z" fill="#a6f4c0"/>
<path d="M463.3 148.5 h1.9 v22 h-1.9 Z M472 173.6 l5.4 -2.6 l1 2.2 l-5.4 2.6 Z M482 170.2 l3.4 -1.4 l0.9 2 l-3.4 1.4 Z" fill="#8ef0ac"/>
<path d="M447 184 Q451 173 460 172 Q469 172 476 182 Q482 192 486.5 203 L484.6 203.3 Q478 195 470 186.5 Q459 177.5 447 184 Z" fill="#74b6f2"/>
<path d="M447 184 Q451.5 178.5 458 178.5 L456 173.5 Q450 175.5 447 184 Z" fill="#9ccbf5"/>
<path d="M486.5 203.2 L498.4 196.4 L499 198.4 L487.3 205 Z" fill="#a8f4c0"/>
<g fill="#8a55cc"><circle cx="457" cy="148" r="0.95"/><circle cx="461" cy="148.6" r="0.95"/><circle cx="465" cy="149.8" r="0.95"/><circle cx="470.4" cy="152.5" r="0.95"/><circle cx="474.9" cy="157" r="0.95"/><circle cx="478.5" cy="162.4" r="0.95"/><circle cx="482" cy="168.6" r="0.95"/><circle cx="485.6" cy="174.9" r="0.95"/><circle cx="488.3" cy="181.2" r="0.95"/><circle cx="490.1" cy="187.4" r="0.95"/><circle cx="460.6" cy="157.9" r="0.95"/><circle cx="466.9" cy="159.7" r="0.95"/><circle cx="471.3" cy="162.4" r="0.95"/><circle cx="475.8" cy="166.9" r="0.95"/><circle cx="478.5" cy="172.2" r="0.95"/><circle cx="481.2" cy="177.6" r="0.95"/><circle cx="483.9" cy="183" r="0.95"/><circle cx="485.6" cy="187.4" r="0.95"/><circle cx="488" cy="191.9" r="0.95"/></g>
<g stroke="#111" stroke-width="0.7" fill="none"><path d="M453.4 138.5 L457 152.5"/><path d="M483.9 156 L476.7 163.3"/><path d="M492.8 183 L489.2 188.3"/><path d="M453 149 Q470 147 479.5 164 Q486 177 490.3 188" stroke="#1a4430" stroke-width="0.45"/><path d="M456 158 Q468 156.5 476 168 Q483 180 488.3 192.5" stroke="#1a4430" stroke-width="0.45"/></g>
<g fill="#111"><circle cx="457" cy="152.8" r="1.1"/><circle cx="476.6" cy="163.5" r="0.95"/><circle cx="489" cy="188.6" r="0.95"/></g>
<!-- small hole-shape sketches -->
<g stroke="#555" stroke-width="0.6" fill="none"><path d="M446 126.3 H479"/><path d="M446 133.4 H479"/><path d="M452.5 133.4 L474.5 122.3"/><path d="M455 133.4 L470 127"/><path d="M448 116.4 H452"/><rect x="452.3" y="114.8" width="13" height="3.2" rx="1.6" fill="#bbb"/><circle cx="468.2" cy="116.4" r="1.9" fill="#ddd"/><path d="M465.3 114.8 L472 113.8 M465.3 118 L472 119 M471 115 L478 111.5"/></g>
<g font-size="2.6" fill="#333"><text x="474.8" y="123.6">F</text><text x="465.5" y="132.3">30°</text><text x="476" y="112.6">30°</text></g>
<!-- red dashed box -->
<g stroke="#f00000" stroke-width="1.8" fill="none"><path d="M446.8 105.8 H500" stroke-dasharray="5.8 6.1"/><path d="M439.9 105.2 V204" stroke-dasharray="11.5 5.5"/><path d="M504.6 108.7 V204" stroke-dasharray="9 8"/><path d="M439 205.8 H505.5" stroke-dasharray="9 3.8" stroke-dashoffset="0.8"/></g>
<text x="521.8" y="115.6" font-size="12.4" class="b">H3s</text>
<g font-size="14.8" text-anchor="middle"><text x="475" y="221.6">Laidback</text><text x="475" y="235.7">fan shaped</text></g>
</g>
<g id="s1s">
<g stroke="#3c3c3c" stroke-width="0.6" fill="none">
<path d="M435.8 299.8 L477 250.4 L493.1 255.7 L516.5 284.5"/>
<path d="M439.4 302.8 L477.9 255.7 L491.3 259.3 L510.1 286.2 L514 293"/>
<path d="M443 305.8 L478.8 260.6 L488.6 263.1 L503 284.4 L510 296"/>
<path d="M435.8 299.8 L486 343.2 L508.3 336"/>
<path d="M478 266.8 Q484 262.5 489.5 268.5 Q494 274 498 284 Q501 292 505 299"/>
<path d="M479.7 272 Q485 268.5 490 275 Q494 281 497 290 L502 303"/>
<path d="M478.5 277.3 Q484 275 488.5 282.6"/>
<path d="M497.6 285 L508.3 302"/>
<path d="M468 328 Q478 316 483.3 310 Q485.5 307.5 487.5 311 L497.6 337.5"/>
<path d="M474.3 337 Q480 322 484.2 314 Q485.6 312 486.8 315 L495 338.7"/>
<path d="M470.7 323.5 Q478 312 483.3 303.8"/>
<path d="M498.1 301.5 V324.4"/>
</g>
<path d="M477 286.2 Q484 285.5 488.6 289.7 Q493 293.5 494.9 298.7 Q496.4 303 496.7 307.5 L492 306.5 Q490 300.5 486.9 298.7 Q483 296.8 477 297 Z" fill="#8e8e8e" opacity="0.8"/>
<g stroke="#2a2a2a" stroke-width="0.6" fill="none" stroke-dasharray="1.2 1"><path d="M477 288.4 Q488 288 491.5 296 Q494 302 494.6 307"/><path d="M477 291.5 Q486 291.5 489.5 298 Q491.6 302 492.6 306.6"/><path d="M477 294.6 Q484 294.8 487.5 299"/></g>
<g stroke="#444" stroke-width="0.6" fill="none" stroke-dasharray="1.6 1.4"><path d="M458.2 288.9 H508.3"/><path d="M457 308 L476 288.9"/><path d="M478.8 309 V338"/><path d="M484.8 306 V343"/><path d="M491.3 310 V339"/><path d="M495.5 312 V338"/><path d="M462 300 L475 310"/></g>
<rect x="473.7" y="282.6" width="2.1" height="25.7" fill="#111"/>
<g stroke="#111" stroke-width="0.7" fill="none"><path d="M451 266.5 L474.3 283.5"/><path d="M468 337.8 L485 298.4"/></g>
<g stroke="#111" stroke-width="1.5" fill="none"><path d="M442.1 319 L448.4 311.4"/><path d="M454.6 328.9 L460.9 321.2"/></g>
<g fill="#111"><path d="M451.4 307.8 L450.6 314 L446 310.2 Z"/><path d="M463.9 317.6 L463.1 323.8 L458.5 320 Z"/><path d="M498.1 300.2 l1.5 3 h-3 Z M498.1 325.8 l1.5 -3 h-3 Z"/><circle cx="498.1" cy="307.4" r="0.9"/><circle cx="498.1" cy="315" r="0.8"/><path d="M477.2 284.2 l2.6 1.1 l-2.6 1.1 Z M477.2 290.2 l2.6 1.1 l-2.6 1.1 Z M477.2 296.2 l2.6 1.1 l-2.6 1.1 Z M477.2 302.2 l2.6 1.1 l-2.6 1.1 Z"/></g>
<g font-size="7.4"><text x="427.6" y="265.6">Purge slot</text><text x="430.5" y="337.7">Film cooled</text><text x="437.6" y="345.8">platform</text></g>
<text x="521.3" y="272.2" font-size="12.4" class="b">S1s</text>
</g>

</svg></body></html>
